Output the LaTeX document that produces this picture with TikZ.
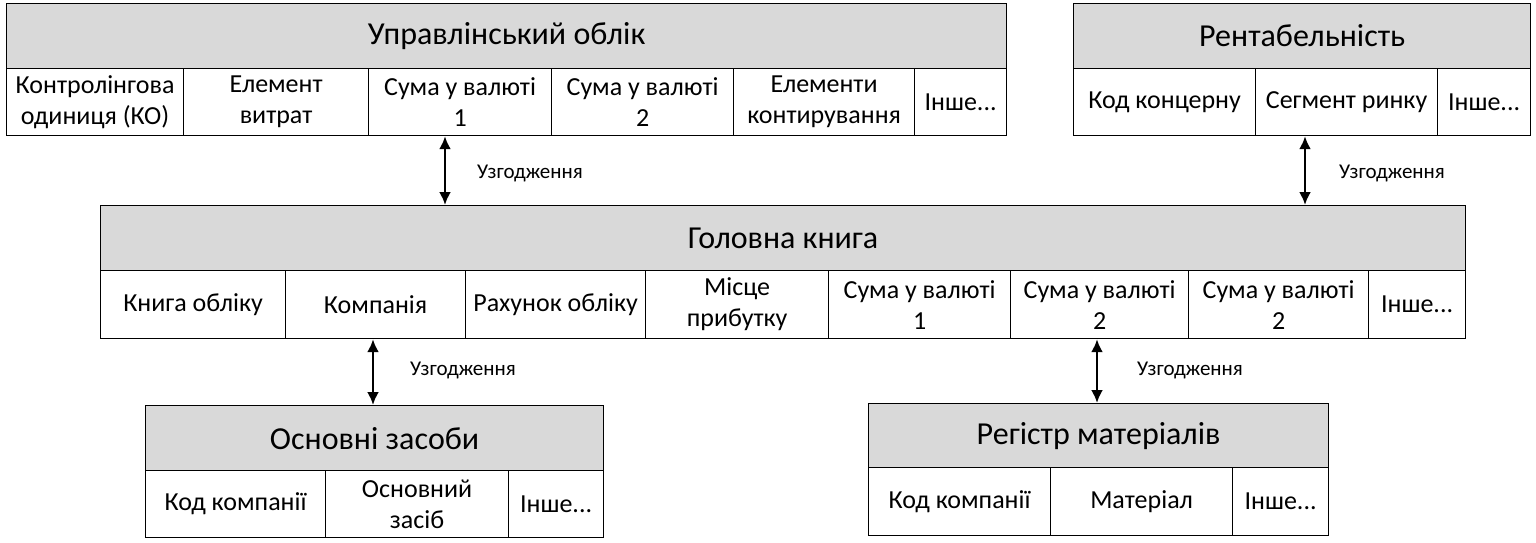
\documentclass[tikz,border=0pt]{standalone}
\usepackage{fontspec}
\setmainfont{Carlito}
\usetikzlibrary{arrows.meta}
\begin{document}
\begin{tikzpicture}[x=1pt,y=-1pt,
  box/.style={draw,line width=1.2pt,anchor=north west,inner sep=0pt,align=center},
  head/.style={box,fill=black!15,font=\fontsize{32}{36}\selectfont},
  cell/.style={box,font=\fontsize{26}{31}\selectfont},
  lbl/.style={font=\fontsize{21}{24}\selectfont},
  dbl/.style={line width=2.4pt,{Latex[length=13pt,width=12pt]}-{Latex[length=13pt,width=12pt]}}]
\useasboundingbox (0,0) rectangle (1536,542);
% Управлінський облік
\node[head,minimum width=1000pt,minimum height=65pt] (uh) at (6,3) {Управлінський облік};
\node[cell,minimum width=177pt,minimum height=67pt] (u1) at (6,68) {Контролінгова\\одиниця (КО)};
\node[cell,minimum width=185pt,minimum height=67pt] (u2) at (183,68) {Елемент\\витрат};
\node[cell,minimum width=183pt,minimum height=67pt] (u3) at (368,68) {Сума у валюті\\1};
\node[cell,minimum width=182pt,minimum height=67pt] (u4) at (551,68) {Сума у валюті\\2};
\node[cell,minimum width=181pt,minimum height=67pt] (u5) at (733,68) {Елементи\\контирування};
\node[cell,minimum width=92pt,minimum height=67pt] (u6) at (914,68) {Інше...};
% Рентабельність
\node[head,minimum width=457pt,minimum height=65pt] (rh) at (1073,3) {Рентабельність};
\node[cell,minimum width=182pt,minimum height=67pt] (r1) at (1073,68) {Код концерну};
\node[cell,minimum width=182pt,minimum height=67pt] (r2) at (1255,68) {Сегмент ринку};
\node[cell,minimum width=93pt,minimum height=67pt] (r3) at (1437,68) {Інше...};
% Головна книга
\node[head,minimum width=1365pt,minimum height=65pt] (gh) at (100,205) {Головна книга};
\node[cell,minimum width=185pt,minimum height=68pt] (g1) at (100,270) {Книга обліку};
\node[cell,minimum width=180pt,minimum height=68pt] (g2) at (285,270) {Компанія};
\node[cell,minimum width=180pt,minimum height=68pt] (g3) at (465,270) {Рахунок обліку};
\node[cell,minimum width=183pt,minimum height=68pt] (g4) at (645,270) {Місце\\прибутку};
\node[cell,minimum width=182pt,minimum height=68pt] (g5) at (828,270) {Сума у валюті\\1};
\node[cell,minimum width=178pt,minimum height=68pt] (g6) at (1010,270) {Сума у валюті\\2};
\node[cell,minimum width=180pt,minimum height=68pt] (g7) at (1188,270) {Сума у валюті\\2};
\node[cell,minimum width=97pt,minimum height=68pt] (g8) at (1368,270) {Інше...};
% Основні засоби
\node[head,minimum width=458pt,minimum height=65pt] (oh) at (145,405) {Основні засоби};
\node[cell,minimum width=180pt,minimum height=67pt] (o1) at (145,470) {Код компанії};
\node[cell,minimum width=183pt,minimum height=67pt] (o2) at (325,470) {Основний\\засіб};
\node[cell,minimum width=95pt,minimum height=67pt] (o3) at (508,470) {Інше...};
% Регістр матеріалів
\node[head,minimum width=460pt,minimum height=64pt] (mh) at (868,403) {Регістр матеріалів};
\node[cell,minimum width=182pt,minimum height=68pt] (m1) at (868,467) {Код компанії};
\node[cell,minimum width=182pt,minimum height=68pt] (m2) at (1050,467) {Матеріал};
\node[cell,minimum width=96pt,minimum height=68pt] (m3) at (1232,467) {Інше...};
% arrows
\coordinate (a1) at (445,0);
\coordinate (a2) at (1305,0);
\coordinate (a3) at (373,0);
\coordinate (a4) at (1097,0);
\draw[dbl] (u3.south -| a1) -- (gh.north -| a1);
\node[lbl] (l1) at (530,173) {Узгодження};
\draw[dbl] (r2.south -| a2) -- (gh.north -| a2);
\node[lbl] (l2) at (1392,173) {Узгодження};
\draw[dbl] (g2.south -| a3) -- (oh.north -| a3);
\node[lbl] (l3) at (463,370) {Узгодження};
\draw[dbl] (g6.south -| a4) -- (mh.north -| a4);
\node[lbl] (l4) at (1190,370) {Узгодження};
\end{tikzpicture}
\end{document}
